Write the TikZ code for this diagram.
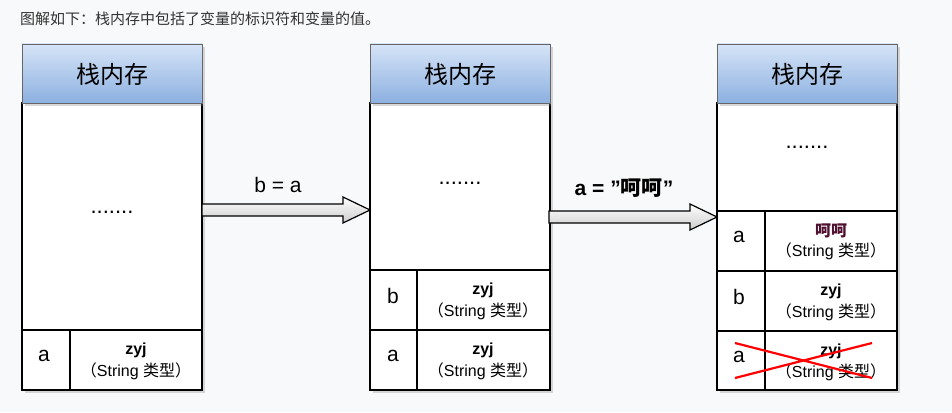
\documentclass[tikz,border=0pt]{standalone}
\usepackage{fontspec}
\setmainfont{Liberation Sans}
\newfontfamily\cjk{Noto Sans CJK SC}
\usetikzlibrary{shadows}
\definecolor{hdtop}{HTML}{D6E4F7}
\definecolor{hdbot}{HTML}{8CB0E0}
\tikzset{
 hdr/.style={draw=black!60,line width=0.8pt,top color=hdtop,bottom color=hdbot,drop shadow={opacity=0.3}},
 body/.style={draw=black,line width=1.3pt,fill=white,drop shadow={opacity=0.3}},
 cell/.style={draw=black,line width=1.3pt},
 bigarr/.style={draw=black,line width=1.2pt,top color=white,bottom color=black!20},
 key/.style={font=\fontsize{21}{24}\selectfont},
}
\newcommand{\val}[1]{\shortstack{\textbf{#1}\\[2pt]{\cjk （}String {\cjk 类型）}}}
\begin{document}
\begin{tikzpicture}[x=1pt,y=-1pt,font=\fontsize{16}{18}\selectfont]
\fill[color={rgb,255:red,248;green,249;blue,251}] (0,0) rectangle (952,412);
\node[anchor=west,font=\cjk\fontsize{15}{17}\selectfont,text=black!80,inner sep=0pt] (title) at (20,19) {图解如下：栈内存中包括了变量的标识符和变量的值。};
% boxes
\foreach \n/\x in {b1/22,b2/370,b3/717}{
 \path[body] (\x,103) rectangle ++(180,287);
 \path[hdr] (\x,44) rectangle ++(180,59);
 \node[font=\cjk\fontsize{24}{26}\selectfont] (\n h) at (\x+90,74) {栈内存};
}
% arrows
\coordinate (a1s) at (202,210); \coordinate (a1e) at (370,210);
\path[bigarr] (a1s) ++(0,-6) -- ++(141,0) -- ++(0,-7) -- (a1e) -- ++(-27,13) -- ++(0,-7) -- ++(-141,0) -- cycle;
\node[font=\fontsize{21}{24}\selectfont] (l1) at (278,185) {b = a};
\coordinate (a2s) at (549,217); \coordinate (a2e) at (717,217);
\path[bigarr] (a2s) ++(0,-6) -- ++(141,0) -- ++(0,-7) -- (a2e) -- ++(-27,13) -- ++(0,-7) -- ++(-141,0) -- cycle;
\node[font=\fontsize{21}{24}\selectfont\bfseries] (l2) at (624,188) {a = "{\cjk\bfseries 呵呵}"};
% box1
\node[font=\fontsize{22}{24}\selectfont] (d1) at (112,212) {.......};
\draw[cell] (22,330) -- (202,330) (70,330) -- (70,390);
\node[key] (k1) at (44,356) {a};
\node (v1) at (136,361) {\val{zyj}};
% box2
\node[font=\fontsize{22}{24}\selectfont] (d2) at (460,183) {.......};
\draw[cell] (370,270) -- (549,270) (370,330) -- (549,330) (417,270) -- (417,390);
\node[key] (k2) at (393,296) {b};
\node (v2) at (483,301) {\val{zyj}};
\node[key] (k3) at (393,356) {a};
\node (v3) at (483,361) {\val{zyj}};
% box3
\node[font=\fontsize{22}{24}\selectfont] (d3) at (807,147) {.......};
\draw[cell] (717,211) -- (897,211) (717,271) -- (897,271) (717,331) -- (897,331) (765,211) -- (765,390);
\node[key] (k4) at (739,237) {a};
\node (v4) at (831,242) {\shortstack{{\cjk\bfseries\color[HTML]{501030}呵呵}\\[2pt]{\cjk （}String {\cjk 类型）}}};
\node[key] (k5) at (739,297) {b};
\node (v5) at (831,302) {\val{zyj}};
\node[key] (k6) at (739,357) {a};
\node (v6) at (831,362) {\val{zyj}};
\draw[red,line width=2.2pt] (735,343) -- (872,378) (735,378) -- (872,343);
\end{tikzpicture}
\end{document}
